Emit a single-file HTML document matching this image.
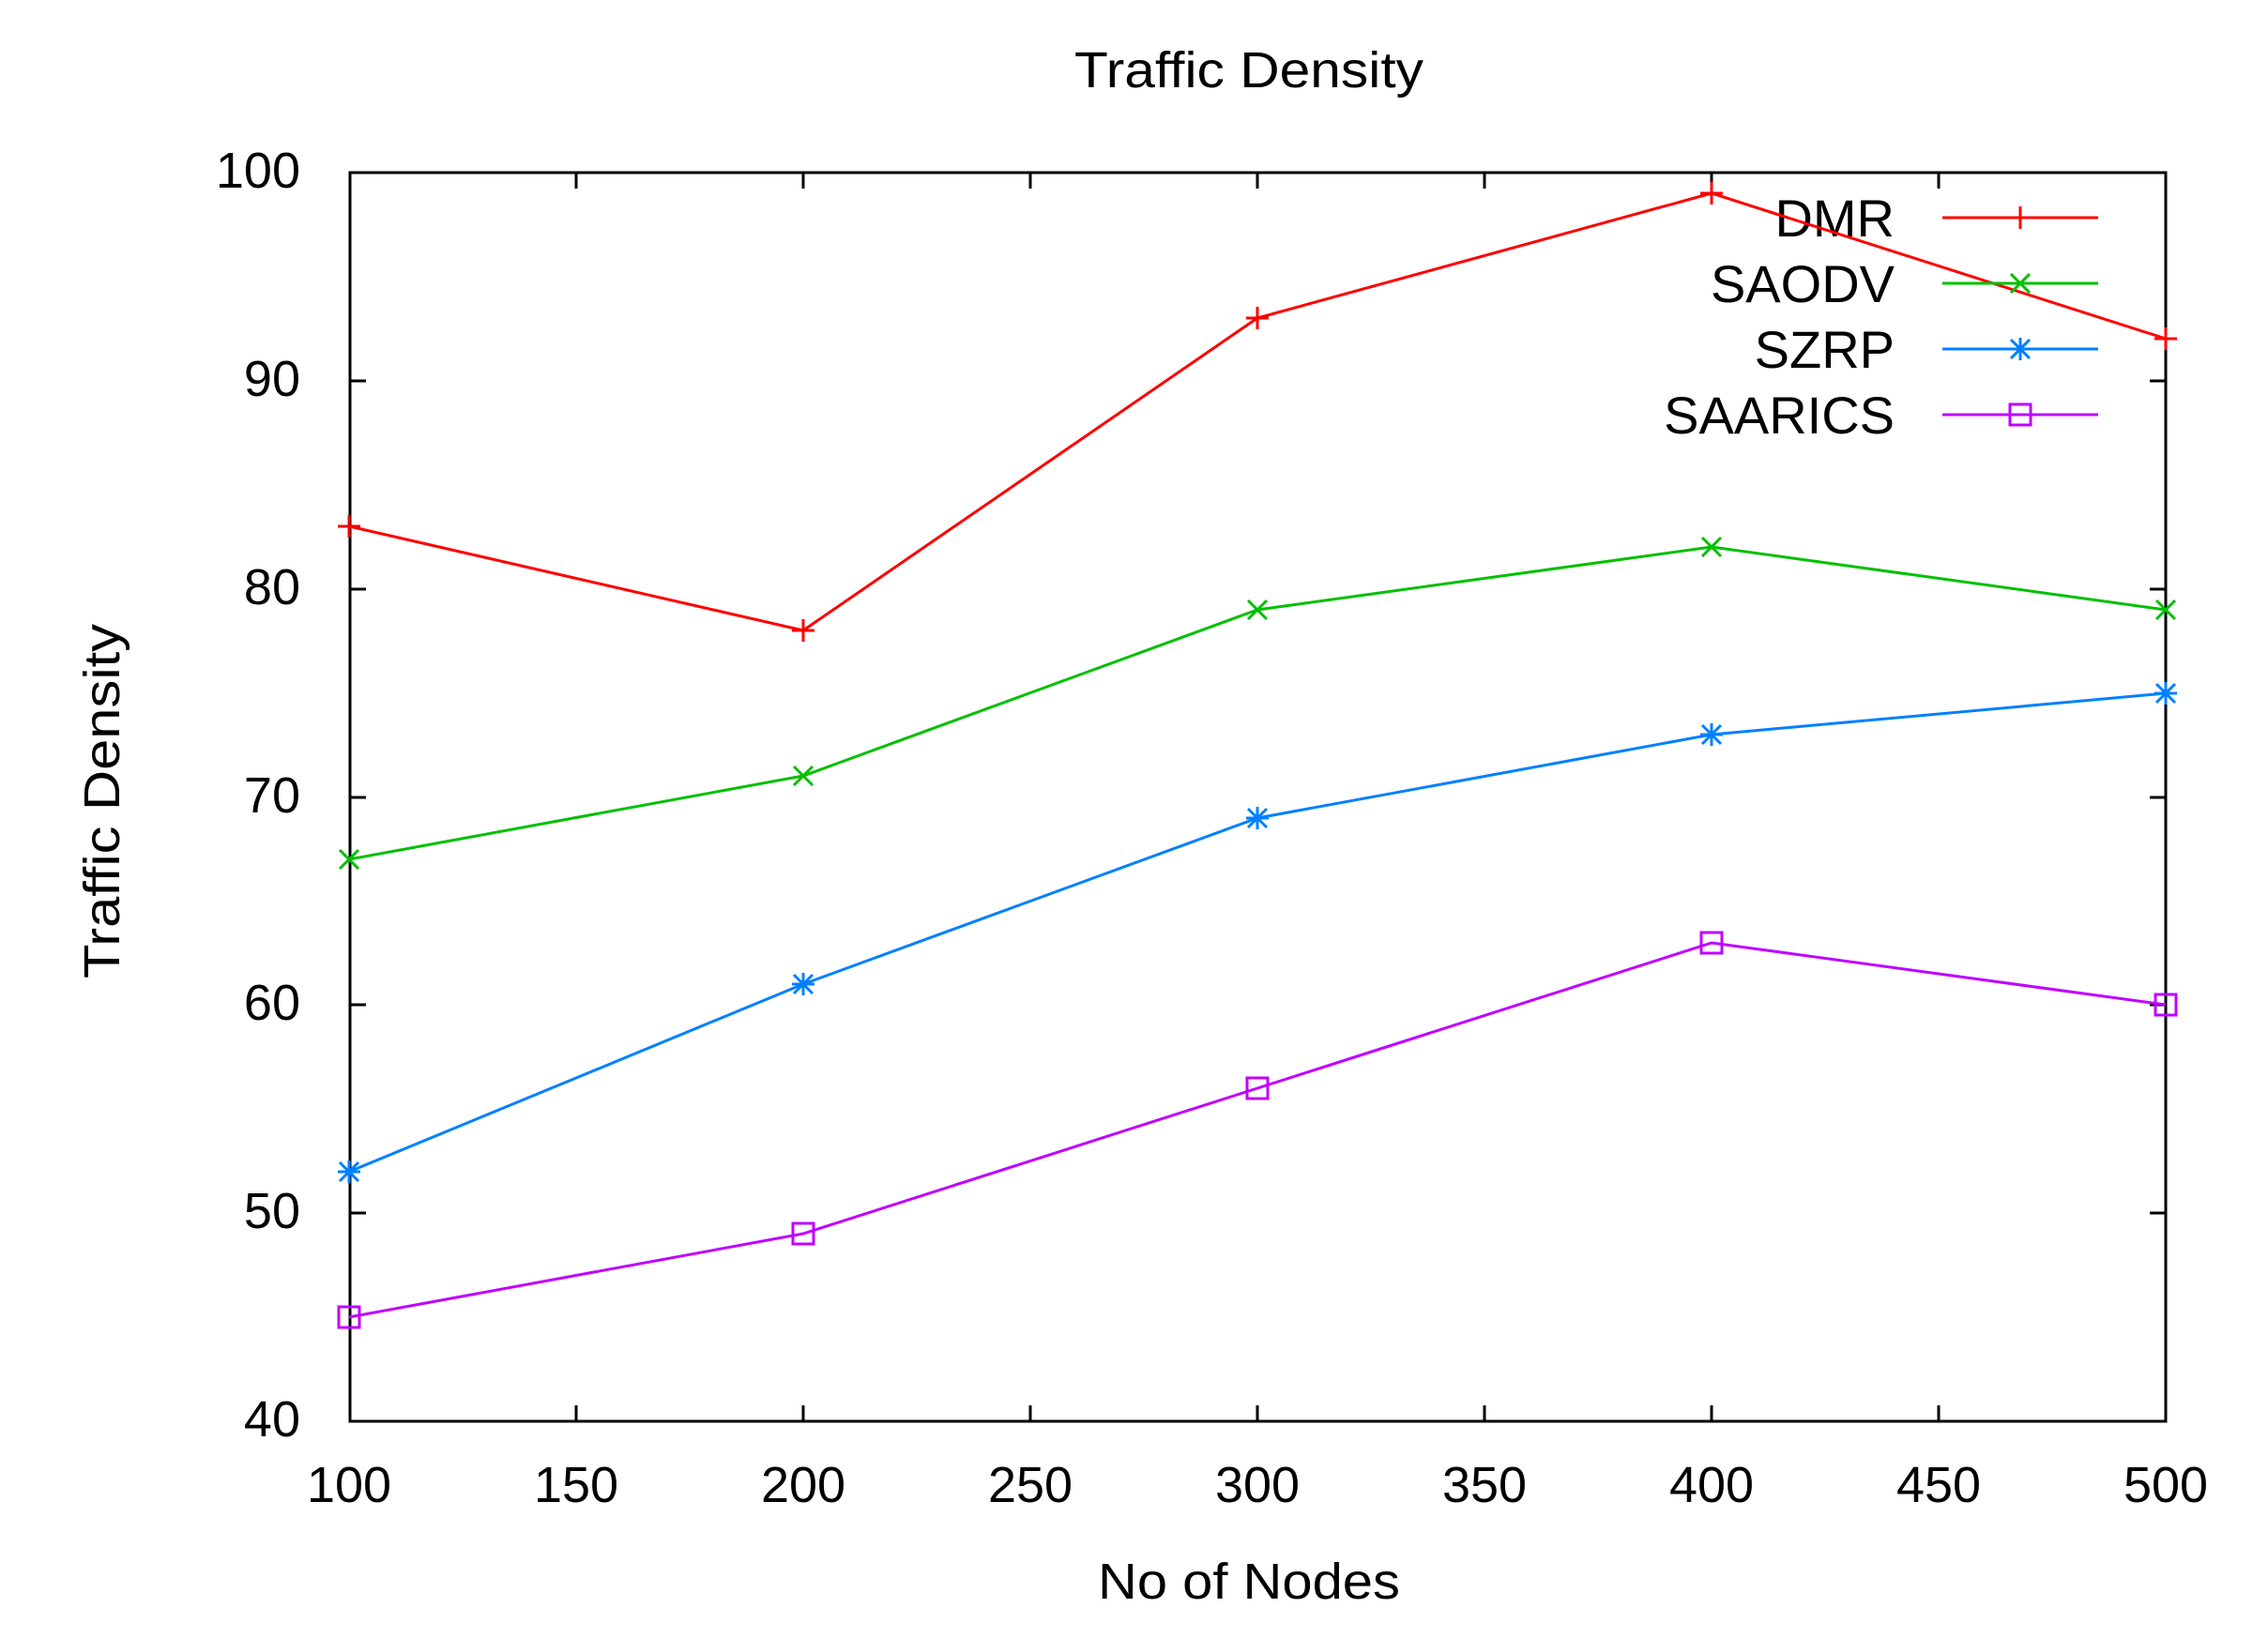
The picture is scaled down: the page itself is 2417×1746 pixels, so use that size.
<!DOCTYPE html>
<html><head><meta charset="utf-8"><style>html,body{margin:0;padding:0;background:#fff}svg{display:block}</style></head>
<body>
<svg width="2417" height="1746" viewBox="0 0 2417 1746" xmlns="http://www.w3.org/2000/svg" font-family="Liberation Sans, sans-serif" font-size="54" fill="#000">
<rect width="2417" height="1746" fill="#fff"/>
<g stroke="#000" stroke-width="3" fill="none">
<rect x="373" y="184" width="1935" height="1331"/>
<path d="M614,1515v-17M856,1515v-17M1098,1515v-17M1340,1515v-17M1582,1515v-17M1824,1515v-17M2066,1515v-17
M614,184v17M856,184v17M1098,184v17M1340,184v17M1582,184v17M1824,184v17M2066,184v17
M373,1293h17M373,1071h17M373,850h17M373,628h17M373,406h17
M2308,1293h-17M2308,1071h-17M2308,850h-17M2308,628h-17M2308,406h-17"/>
</g>
<g text-anchor="end">
<text x="320" y="200">100</text><text x="320" y="422">90</text><text x="320" y="644">80</text><text x="320" y="866">70</text><text x="320" y="1087">60</text><text x="320" y="1309">50</text><text x="320" y="1531">40</text>
</g>
<g text-anchor="middle">
<text x="372" y="1601">100</text><text x="614" y="1601">150</text><text x="856" y="1601">200</text><text x="1098" y="1601">250</text><text x="1340" y="1601">300</text><text x="1582" y="1601">350</text><text x="1824" y="1601">400</text><text x="2066" y="1601">450</text><text x="2308" y="1601">500</text>
<text x="1331" y="93" textLength="372" lengthAdjust="spacingAndGlyphs">Traffic Density</text>
<text x="1331" y="1704" textLength="322" lengthAdjust="spacingAndGlyphs">No of Nodes</text>
<text transform="translate(127,854) rotate(-90)" textLength="378" lengthAdjust="spacingAndGlyphs">Traffic Density</text>
</g>
<g text-anchor="end" font-size="56">
<text x="2019" y="252">DMR</text><text x="2019" y="322">SAODV</text><text x="2019" y="392">SZRP</text><text x="2019" y="462">SAARICS</text>
</g>
<g fill="none" stroke-width="3">
<g stroke="#ff0000">
<polyline points="372,561 856,672 1340,339 1824,206 2308,361"/>
<path d="M360,561h24M372,549v24M844,672h24M856,660v24M1328,339h24M1340,327v24M1812,206h24M1824,194v24M2296,361h24M2308,349v24"/>
<path d="M2070,232h166M2141,232h24M2153,220v24"/>
</g>
<g stroke="#00c000">
<polyline points="372,916 856,827 1340,650 1824,583 2308,650"/>
<path d="M362,906l20,20M382,906l-20,20M846,817l20,20M866,817l-20,20M1330,640l20,20M1350,640l-20,20M1814,573l20,20M1834,573l-20,20M2298,640l20,20M2318,640l-20,20"/>
<path d="M2070,302h166M2143,292l20,20M2163,292l-20,20"/>
</g>
<g stroke="#0080ff">
<polyline points="372,1249 856,1049 1340,872 1824,783 2308,739"/>
<path d="M360,1249h24M372,1237v24M362,1239l20,20M382,1239l-20,20M844,1049h24M856,1037v24M846,1039l20,20M866,1039l-20,20M1328,872h24M1340,860v24M1330,862l20,20M1350,862l-20,20M1812,783h24M1824,771v24M1814,773l20,20M1834,773l-20,20M2296,739h24M2308,727v24M2298,729l20,20M2318,729l-20,20"/>
<path d="M2070,372h166M2141,372h24M2153,360v24M2143,362l20,20M2163,362l-20,20"/>
</g>
<g stroke="#c000ff">
<polyline points="372,1404 856,1315 1340,1160 1824,1005 2308,1071"/>
<path d="M361,1393h22v22h-22zM845,1304h22v22h-22zM1329,1149h22v22h-22zM1813,994h22v22h-22zM2297,1060h22v22h-22z"/>
<path d="M2070,442h166M2142,431h22v22h-22z"/>
</g>
</g>
</svg>
</body></html>
